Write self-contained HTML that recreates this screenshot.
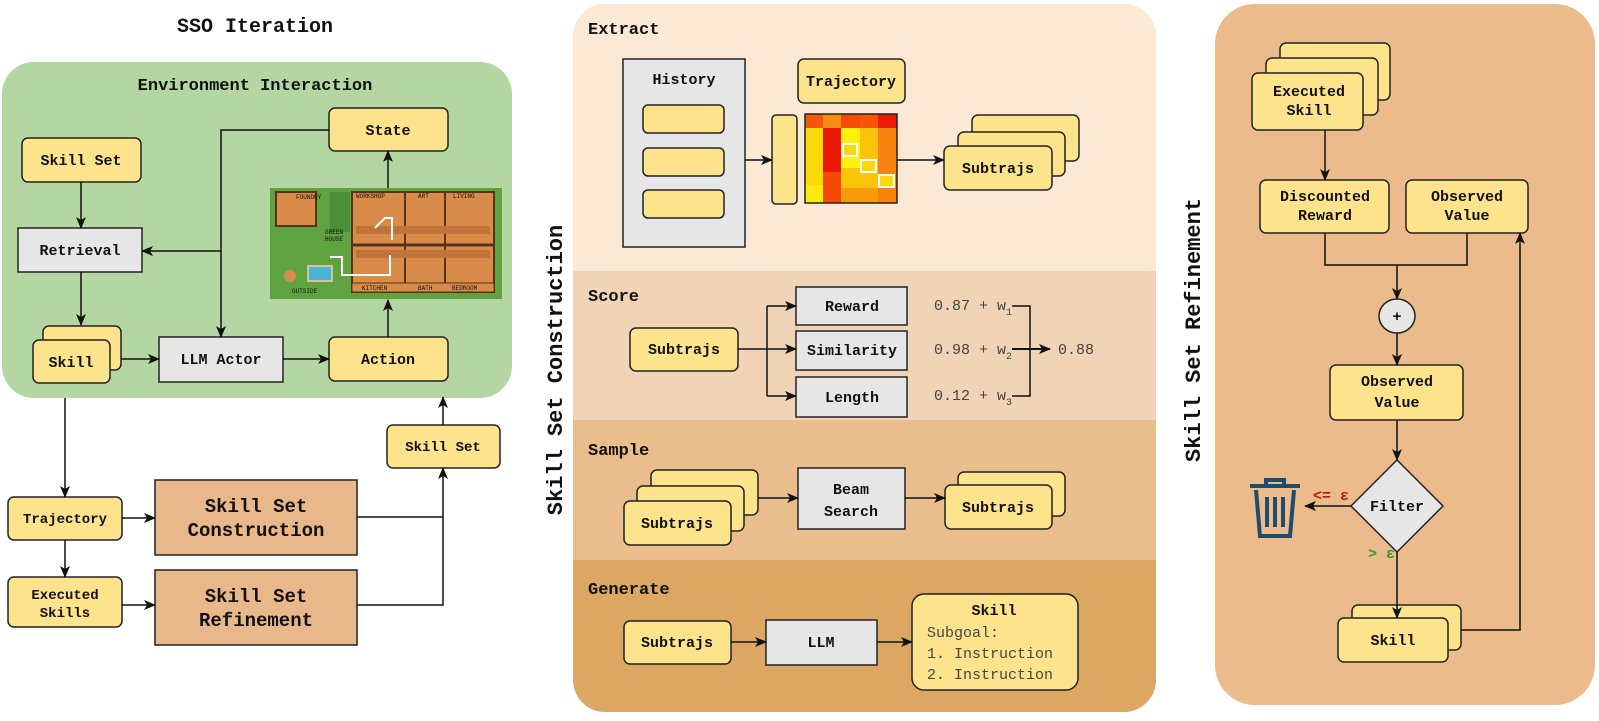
<!DOCTYPE html>
<html><head><meta charset="utf-8"><style>
html,body{margin:0;padding:0;background:#fff}
svg{display:block}
text{font-family:"Liberation Mono",monospace;fill:#111}
.b{font-weight:bold}
</style></head><body>
<svg width="1599" height="721" viewBox="0 0 1599 721" xmlns="http://www.w3.org/2000/svg">
<defs>
<marker id="a" markerWidth="12" markerHeight="10" refX="11" refY="5" orient="auto" markerUnits="userSpaceOnUse">
<path d="M0,0 L12,5 L0,10 L3,5 Z" fill="#111"/></marker>
</defs>
<rect x="2" y="62" width="510" height="336" rx="32" fill="#b4d6a3"/>
<text x="255" y="32" text-anchor="middle" class="b" font-size="20">SSO Iteration</text>
<text x="255" y="90" text-anchor="middle" class="b" font-size="17">Environment Interaction</text>
<g stroke="#222" stroke-width="1.5">
<rect x="22" y="138" width="119" height="44" rx="6" fill="#fde38b"/>
<rect x="18" y="228" width="124" height="44" fill="#e6e6e6"/>
<rect x="43" y="326" width="78" height="44" rx="6" fill="#fde38b"/>
<rect x="33" y="340" width="77" height="43" rx="6" fill="#fde38b"/>
<rect x="159" y="337" width="124" height="45" fill="#e6e6e6"/>
<rect x="329" y="337" width="119" height="44" rx="6" fill="#fde38b"/>
<rect x="329" y="108" width="119" height="43" rx="6" fill="#fde38b"/>
</g>
<g>
<rect x="270" y="188" width="232" height="111" fill="#5ea33f"/>
<rect x="276" y="192" width="40" height="34" fill="#d98b4a" stroke="#5a3018" stroke-width="2"/>
<rect x="330" y="192" width="20" height="40" fill="#4d8f36"/>
<rect x="352" y="192" width="142" height="100" fill="#d98b4a" stroke="#5a3018" stroke-width="2"/>
<line x1="352" y1="245" x2="494" y2="245" stroke="#5a3018" stroke-width="3"/>
<line x1="405" y1="192" x2="405" y2="292" stroke="#5a3018" stroke-width="2"/>
<line x1="445" y1="192" x2="445" y2="292" stroke="#5a3018" stroke-width="2"/>
<rect x="356" y="226" width="134" height="8" fill="#c0733a"/>
<rect x="356" y="250" width="134" height="8" fill="#c0733a"/>
<rect x="352" y="283" width="142" height="9" fill="#d98b4a" stroke="#5a3018" stroke-width="1"/>
<rect x="284" y="270" width="12" height="12" rx="6" fill="#d98b4a"/>
<rect x="308" y="266" width="24" height="15" fill="#4ab3d9" stroke="#d9c28b" stroke-width="2"/>
<path d="M330,257 L342,257 L342,275 L390,275 L390,255 M375,228 L385,218 L392,218 L392,240" stroke="#fff" stroke-width="2" fill="none"/>
<text x="296" y="199" font-size="6" fill="#fff">FOUNDRY</text>
<text x="356" y="198" font-size="6" fill="#fff">WORKSHOP</text>
<text x="418" y="198" font-size="6" fill="#fff">ART</text>
<text x="453" y="198" font-size="6" fill="#fff">LIVING</text>
<text x="325" y="234" font-size="6" fill="#fff">GREEN</text>
<text x="325" y="241" font-size="6" fill="#fff">HOUSE</text>
<text x="292" y="293" font-size="6" fill="#fff">OUTSIDE</text>
<text x="362" y="290" font-size="6" fill="#fff">KITCHEN</text>
<text x="418" y="290" font-size="6" fill="#fff">BATH</text>
<text x="452" y="290" font-size="6" fill="#fff">BEDROOM</text>
</g>
<g font-size="15" text-anchor="middle">
<text x="81" y="165" class="b">Skill Set</text>
<text x="80" y="255" class="b">Retrieval</text>
<text x="71" y="367" class="b">Skill</text>
<text x="221" y="364" class="b">LLM Actor</text>
<text x="388" y="364" class="b">Action</text>
<text x="388" y="135" class="b">State</text>
</g>
<g stroke="#111" stroke-width="1.5" fill="none" marker-end="url(#a)">
<path d="M81,182 V228"/>
<path d="M81,272 V325"/>
<path d="M121,359 H159"/>
<path d="M283,359 H329"/>
<path d="M388,337 V300"/>
<path d="M388,188 V151"/>
<path d="M329,130 H221 V337"/>
<path d="M221,251 H142"/>
</g>
<g stroke="#222" stroke-width="1.5">
<rect x="8" y="497" width="114" height="43" rx="6" fill="#fde38b"/>
<rect x="8" y="577" width="114" height="50" rx="6" fill="#fde38b"/>
<rect x="155" y="480" width="202" height="75" fill="#e9b88a"/>
<rect x="155" y="570" width="202" height="75" fill="#e9b88a"/>
<rect x="387" y="425" width="113" height="43" rx="6" fill="#fde38b"/>
</g>
<g font-size="14" text-anchor="middle">
<text x="65" y="523" class="b">Trajectory</text>
<text x="65" y="599" class="b">Executed</text>
<text x="65" y="617" class="b">Skills</text>
<text x="443" y="451" class="b">Skill Set</text>
</g>
<g font-size="19" text-anchor="middle">
<text x="256" y="512" class="b">Skill Set</text>
<text x="256" y="536" class="b">Construction</text>
<text x="256" y="602" class="b">Skill Set</text>
<text x="256" y="626" class="b">Refinement</text>
</g>
<g stroke="#111" stroke-width="1.5" fill="none">
<path d="M65,398 V497" marker-end="url(#a)"/>
<path d="M122,518 H155" marker-end="url(#a)"/>
<path d="M65,540 V577" marker-end="url(#a)"/>
<path d="M122,605 H155" marker-end="url(#a)"/>
<path d="M357,517 H443"/>
<path d="M357,605 H443 V468" marker-end="url(#a)"/>
<path d="M443,425 V397" marker-end="url(#a)"/>
</g>

<clipPath id="mc"><rect x="573" y="4" width="583" height="708" rx="32"/></clipPath>
<g clip-path="url(#mc)">
<rect x="573" y="4" width="583" height="267" fill="#fbe9d6"/>
<rect x="573" y="271" width="583" height="149" fill="#f0d4b5"/>
<rect x="573" y="420" width="583" height="140" fill="#eabd8d"/>
<rect x="573" y="560" width="583" height="152" fill="#dba762"/>
</g>
<text x="562" y="370" transform="rotate(-90 562 370)" text-anchor="middle" class="b" font-size="22">Skill Set Construction</text>
<g font-size="17">
<text x="588" y="34" class="b">Extract</text>
<text x="588" y="301" class="b">Score</text>
<text x="588" y="455" class="b">Sample</text>
<text x="588" y="594" class="b">Generate</text>
</g>
<g stroke="#222" stroke-width="1.5">
<rect x="623" y="59" width="122" height="188" fill="#e6e6e6"/>
<rect x="643" y="105" width="81" height="28" rx="5" fill="#fde38b"/>
<rect x="643" y="148" width="81" height="28" rx="5" fill="#fde38b"/>
<rect x="643" y="190" width="81" height="28" rx="5" fill="#fde38b"/>
<rect x="772" y="115" width="25" height="89" rx="4" fill="#fde38b"/>
<rect x="798" y="59" width="107" height="44" rx="6" fill="#fde38b"/>
<rect x="972" y="115" width="107" height="46" rx="6" fill="#fde38b"/>
<rect x="958" y="132" width="107" height="44" rx="6" fill="#fde38b"/>
<rect x="944" y="146" width="108" height="44" rx="6" fill="#fde38b"/>
</g>
<g stroke="none">
<rect x="805" y="114" width="92" height="89" fill="#f77a10"/>
<rect x="805" y="114" width="18" height="14" fill="#f5560a"/><rect x="823" y="114" width="18" height="14" fill="#f98b0e"/><rect x="841" y="114" width="19" height="14" fill="#f54a08"/><rect x="860" y="114" width="18" height="14" fill="#f5560a"/><rect x="878" y="114" width="19" height="14" fill="#ee1a05"/>
<rect x="805" y="128" width="18" height="75" fill="#fbd80a"/>
<rect x="823" y="128" width="18" height="75" fill="#ea1805"/>
<rect x="841" y="128" width="19" height="40" fill="#fcf20c"/>
<rect x="860" y="128" width="18" height="40" fill="#fbc40a"/>
<rect x="878" y="128" width="19" height="75" fill="#f7820f"/>
<rect x="841" y="168" width="37" height="20" fill="#fbc40a"/>
<rect x="841" y="188" width="37" height="15" fill="#f89a0e"/>
<rect x="805" y="185" width="18" height="18" fill="#fcec0e"/>
<rect x="823" y="172" width="18" height="31" fill="#f5490a"/>
<rect x="843" y="144" width="14" height="12" fill="#fbd80a" stroke="#fff" stroke-width="2"/>
<rect x="861" y="160" width="15" height="12" fill="#fbd80a" stroke="#fff" stroke-width="2"/>
<rect x="879" y="175" width="15" height="12" fill="#fbd80a" stroke="#fff" stroke-width="2"/>
</g>
<rect x="805" y="114" width="92" height="89" fill="none" stroke="#222" stroke-width="1.5"/>
<g font-size="15" text-anchor="middle">
<text x="684" y="84" class="b">History</text>
<text x="851" y="86" class="b">Trajectory</text>
<text x="998" y="173" class="b">Subtrajs</text>
</g>
<g stroke="#111" stroke-width="1.5" fill="none" marker-end="url(#a)">
<path d="M745,160 H772"/>
<path d="M897,160 H944"/>
</g>
<g stroke="#222" stroke-width="1.5">
<rect x="630" y="328" width="108" height="43" rx="6" fill="#fde38b"/>
<rect x="796" y="287" width="111" height="38" fill="#e6e6e6"/>
<rect x="796" y="331" width="111" height="39" fill="#e6e6e6"/>
<rect x="796" y="377" width="111" height="40" fill="#e6e6e6"/>
</g>
<g font-size="15" text-anchor="middle">
<text x="684" y="354" class="b">Subtrajs</text>
<text x="852" y="311" class="b">Reward</text>
<text x="852" y="355" class="b">Similarity</text>
<text x="852" y="402" class="b">Length</text>
</g>
<g font-size="15">
<text x="934" y="310" style="fill:#444">0.87 + w<tspan font-size="10" dy="5">1</tspan></text>
<text x="934" y="354" style="fill:#444">0.98 + w<tspan font-size="10" dy="5">2</tspan></text>
<text x="934" y="400" style="fill:#444">0.12 + w<tspan font-size="10" dy="5">3</tspan></text>
<text x="1058" y="354" style="fill:#444">0.88</text>
</g>
<g stroke="#111" stroke-width="1.5" fill="none">
<path d="M738,349 H796" marker-end="url(#a)"/>
<path d="M767,306 H796" marker-end="url(#a)"/>
<path d="M767,396 H796" marker-end="url(#a)"/>
<path d="M767,306 V396"/>
<path d="M1012,306 H1030 V396 H1012"/>
<path d="M1012,349 H1050" marker-end="url(#a)" stroke-width="2"/>
</g>
<g stroke="#222" stroke-width="1.5">
<rect x="651" y="470" width="107" height="45" rx="6" fill="#fde38b"/>
<rect x="637" y="486" width="107" height="45" rx="6" fill="#fde38b"/>
<rect x="624" y="501" width="107" height="44" rx="6" fill="#fde38b"/>
<rect x="798" y="468" width="107" height="61" fill="#e6e6e6"/>
<rect x="958" y="472" width="107" height="44" rx="6" fill="#fde38b"/>
<rect x="945" y="485" width="107" height="44" rx="6" fill="#fde38b"/>
</g>
<g font-size="15" text-anchor="middle">
<text x="677" y="528" class="b">Subtrajs</text>
<text x="851" y="494" class="b">Beam</text>
<text x="851" y="516" class="b">Search</text>
<text x="998" y="512" class="b">Subtrajs</text>
</g>
<g stroke="#111" stroke-width="1.5" fill="none" marker-end="url(#a)">
<path d="M758,498 H798"/>
<path d="M905,498 H945"/>
</g>
<g stroke="#222" stroke-width="1.5">
<rect x="624" y="621" width="107" height="43" rx="6" fill="#fde38b"/>
<rect x="766" y="620" width="111" height="45" fill="#e6e6e6"/>
<rect x="912" y="594" width="166" height="96" rx="12" fill="#fde38b"/>
</g>
<g font-size="15" text-anchor="middle">
<text x="677" y="647" class="b">Subtrajs</text>
<text x="821" y="647" class="b">LLM</text>
<text x="994" y="615" class="b">Skill</text>
</g>
<g font-size="15">
<text x="927" y="637" style="fill:#444">Subgoal:</text>
<text x="927" y="658" style="fill:#444">1. Instruction</text>
<text x="927" y="679" style="fill:#444">2. Instruction</text>
</g>
<g stroke="#111" stroke-width="1.5" fill="none" marker-end="url(#a)">
<path d="M731,642 H766"/>
<path d="M877,642 H912"/>
</g>

<rect x="1215" y="4" width="380" height="701" rx="40" fill="#ebbb8c"/>
<text x="1200" y="330" transform="rotate(-90 1200 330)" text-anchor="middle" class="b" font-size="22">Skill Set Refinement</text>
<g stroke="#222" stroke-width="1.5">
<rect x="1280" y="43" width="110" height="57" rx="6" fill="#fde38b"/>
<rect x="1266" y="58" width="112" height="57" rx="6" fill="#fde38b"/>
<rect x="1252" y="73" width="111" height="57" rx="6" fill="#fde38b"/>
<rect x="1260" y="180" width="129" height="53" rx="6" fill="#fde38b"/>
<rect x="1406" y="180" width="122" height="53" rx="6" fill="#fde38b"/>
<ellipse cx="1397" cy="316" rx="18" ry="17" fill="#e6e6e6"/>
<rect x="1330" y="365" width="133" height="55" rx="6" fill="#fde38b"/>
<path d="M1397,460 L1443,506 L1397,552 L1351,506 Z" fill="#e6e6e6"/>
<rect x="1352" y="605" width="109" height="45" rx="6" fill="#fde38b"/>
<rect x="1338" y="618" width="110" height="44" rx="6" fill="#fde38b"/>
</g>
<g font-size="15" text-anchor="middle">
<text x="1309" y="96" class="b">Executed</text>
<text x="1309" y="115" class="b">Skill</text>
<text x="1325" y="201" class="b">Discounted</text>
<text x="1325" y="220" class="b">Reward</text>
<text x="1467" y="201" class="b">Observed</text>
<text x="1467" y="220" class="b">Value</text>
<text x="1397" y="321" class="b">+</text>
<text x="1397" y="386" class="b">Observed</text>
<text x="1397" y="407" class="b">Value</text>
<text x="1397" y="511" class="b">Filter</text>
<text x="1393" y="645" class="b">Skill</text>
</g>
<text x="1313" y="500" class="b" font-size="15" style="fill:#b01c10">&lt;= ε</text>
<text x="1368" y="558" class="b" font-size="15" style="fill:#2d9a2d">&gt; ε</text>
<g fill="none" stroke="#1e4b6e" stroke-width="4">
<path d="M1250,486 H1300"/>
<path d="M1266,486 V480 H1284 V486"/>
<path d="M1256,490 L1260,536 H1290 L1294,490"/>
<path d="M1267,497 V527 M1275,497 V527 M1283,497 V527"/>
</g>
<g stroke="#111" stroke-width="1.5" fill="none">
<path d="M1325,130 V180" marker-end="url(#a)"/>
<path d="M1325,233 V265 H1467 V233"/>
<path d="M1397,265 V299" marker-end="url(#a)"/>
<path d="M1397,333 V365" marker-end="url(#a)"/>
<path d="M1397,420 V460" marker-end="url(#a)"/>
<path d="M1351,506 H1305" marker-end="url(#a)"/>
<path d="M1397,552 V618" marker-end="url(#a)"/>
<path d="M1461,630 H1520 V233" marker-end="url(#a)"/>
</g>
</svg>
</body></html>
